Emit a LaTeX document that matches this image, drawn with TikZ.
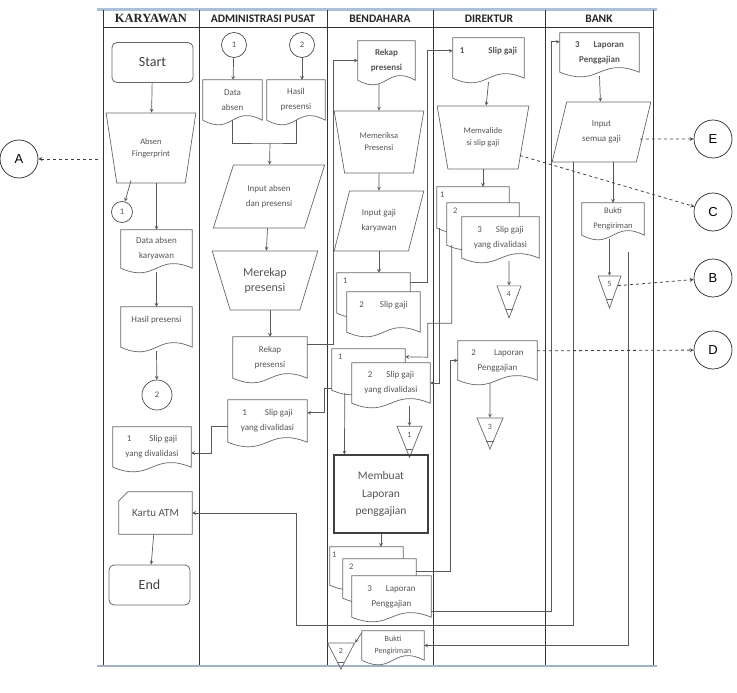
\documentclass[tikz,border=0pt]{standalone}
\usepackage{fontspec}
\setmainfont{Carlito}
\newfontfamily\hdserif{Liberation Serif}
\newfontfamily\lblfont{Liberation Sans}
\usetikzlibrary{shapes.geometric,arrows,positioning,calc,backgrounds}
\definecolor{barblue}{RGB}{168,192,222}
\definecolor{txtgray}{RGB}{85,85,85}

\begin{document}
\begin{tikzpicture}[x=1pt, y=-1pt]
  \tikzstyle{lane}=[draw=black!80, line width=0.7pt]
  \tikzstyle{head}=[font=\bfseries\fontsize{11.5}{11.5}\selectfont, text=black!85]
  \tikzstyle{doc}=[rectangle, inner sep=1pt, align=center, text=txtgray, font=\fontsize{9}{15}\selectfont]
  \tikzstyle{docline}=[draw=black!60, line width=0.7pt, fill=white]
  \tikzstyle{term}=[rectangle, rounded corners=5pt, draw=black!60, line width=0.8pt, minimum width=81, minimum height=40, font=\fontsize{14}{16}\selectfont, text=black!75]
  \tikzstyle{manual}=[trapezium, trapezium stretches=true, shape border rotate=180, draw=black!60, line width=0.7pt, align=center, inner sep=0pt, text=txtgray, font=\fontsize{8.5}{12}\selectfont]
  \tikzstyle{inout}=[trapezium, trapezium stretches=true, draw=black!60, line width=0.7pt, align=center, inner sep=0pt, text=txtgray, font=\fontsize{9}{15}\selectfont]
  \tikzstyle{conn}=[circle, draw=black!70, line width=0.7pt, inner sep=0pt, text=black!70, font=\fontsize{8.5}{9}\selectfont]
  \tikzstyle{offpage}=[isosceles triangle, isosceles triangle stretches, shape border rotate=-90, draw=black!60, line width=0.7pt, inner sep=0pt, text=txtgray, font=\fontsize{8}{9}\selectfont]
  \tikzstyle{letter}=[circle, draw=black!85, line width=0.7pt, minimum size=38, inner sep=0pt, font=\lblfont\fontsize{13}{13}\selectfont]
  \tikzstyle{pagenum}=[anchor=north west, inner xsep=6pt, inner ysep=5pt, text=txtgray, font=\fontsize{8.5}{9}\selectfont]
  \tikzstyle{arrow}=[->, >=stealth, draw=black!65, line width=0.7pt]
  \tikzstyle{link}=[draw=black!65, line width=0.7pt]
  \tikzstyle{dasharrow}=[->, >=stealth, dashed, draw=black!75, line width=0.8pt]

  \useasboundingbox (0,0) rectangle (737,693);

  % header
  \node[head, font=\hdserif\bfseries\fontsize{12.5}{12.5}\selectfont] (h1) at (151,18.5) {KARYAWAN};
  \node[head] (h2) at (263,18.5) {ADMINISTRASI PUSAT};
  \node[head] (h3) at (380,18.5) {BENDAHARA};
  \node[head] (h4) at (489,18.5) {DIREKTUR};
  \node[head] (h5) at (599,18.5) {BANK};

  % karyawan
  \node[term] (k1) at (152.5,62.5) {Start};
  \node[manual, minimum width=90, minimum height=70, trapezium left angle=73, trapezium right angle=73] (k2) at (151,148) {Absen\\Fingerprint};
  \node[conn, minimum size=21] (kc1) at (122,212) {1};
  \node[doc, minimum width=71, minimum height=38] (k3) at (156.5,249) {Data absen\\karyawan};
  \node[doc, minimum width=71, minimum height=40] (k4) at (156.5,327) {Hasil presensi\\~};
  \node[conn, minimum size=30] (kc2) at (157,395) {2};
  \node[doc, minimum width=78, minimum height=40] (k6) at (152,447) {1\hspace{18pt}Slip gaji\\yang divalidasi};
  \node[doc, minimum width=73, minimum height=42, font=\fontsize{11}{12}\selectfont] (k7) at (155.5,513) {Kartu ATM};
  \node[term] (k8) at (149.5,585) {End};

  % administrasi pusat
  \node[conn, minimum size=25] (ac1) at (234,45) {1};
  \node[conn, minimum size=25] (ac2) at (302,45) {2};
  \node[doc, minimum width=59, minimum height=40] (a1) at (232.5,100) {Data\\absen};
  \node[doc, minimum width=58, minimum height=40] (a2) at (296,100) {Hasil\\presensi};
  \node[inout, minimum width=112, minimum height=63, trapezium left angle=60, trapezium right angle=120] (a3) at (269,196.5) {Input absen\\dan presensi};
  \node[manual, minimum width=106, minimum height=59, trapezium left angle=66, trapezium right angle=66, font=\fontsize{12}{15}\selectfont] (a4) at (265,280.5) {Merekap\\presensi};
  \node[doc, minimum width=74, minimum height=41] (a5) at (270,357.5) {Rekap\\presensi};
  \node[doc, minimum width=79, minimum height=42] (a6) at (267.5,421) {1\hspace{18pt}Slip gaji\\yang divalidasi};

  % bendahara
  \node[doc, minimum width=57, minimum height=39, font=\bfseries\fontsize{9}{15}\selectfont] (b1) at (386.5,60.5) {Rekap\\presensi};
  \node[manual, minimum width=90, minimum height=62, trapezium left angle=72, trapezium right angle=72] (b2) at (379,142) {Memeriksa\\Presensi};
  \node[inout, minimum width=90, minimum height=60, trapezium left angle=68, trapezium right angle=112] (b3) at (379,221) {Input gaji\\karyawan};
  \node[doc, minimum width=73, minimum height=40, label={[pagenum]north west:1}] (b4) at (373.5,293) {};
  \node[doc, minimum width=73, minimum height=40] (b5) at (383.5,312) {2\hspace{16pt}Slip gaji\\~};
  \node[doc, minimum width=73, minimum height=41, label={[pagenum]north west:1}] (b6) at (368.5,369.5) {};
  \node[doc, minimum width=78, minimum height=40] (b7) at (391,383) {2\hspace{14pt}Slip gaji\\yang divalidasi};
  \node[offpage, minimum width=25, minimum height=31] (bt1) at (409.5,434.5) {1};
  \node[rectangle, draw=black!75, line width=1.1pt, minimum width=94, minimum height=78, align=center, text=txtgray, font=\fontsize{11.5}{17.5}\selectfont] (b8) at (381,494) {Membuat\\Laporan\\penggajian};
  \node[doc, minimum width=73, minimum height=38, label={[pagenum, inner xsep=2pt]north west:1}] (b9) at (366.5,566) {};
  \node[doc, minimum width=73, minimum height=39, label={[pagenum]north west:2}] (b10) at (379.5,578.5) {};
  \node[doc, minimum width=79, minimum height=41] (b11) at (391.5,596.5) {3\hspace{14pt}Laporan\\Penggajian};
  \node[offpage, minimum width=27, minimum height=26] (bt2) at (341,651) {2};
  \node[doc, minimum width=62, minimum height=29, font=\fontsize{8}{12}\selectfont] (b12) at (393,645.5) {Bukti\\Pengiriman};

  % direktur
  \node[doc, minimum width=71, minimum height=40, font=\bfseries\fontsize{9}{15}\selectfont] (d1) at (488.5,58) {1\hspace{24pt}Slip gaji\\~};
  \node[manual, minimum width=92, minimum height=63, trapezium left angle=73, trapezium right angle=73] (d2) at (483,137.5) {Memvalide\\si slip gaji};
  \node[doc, minimum width=72, minimum height=41, label={[pagenum, inner xsep=3pt]north west:1}] (d3) at (473,207.5) {};
  \node[doc, minimum width=72, minimum height=42, label={[pagenum]north west:2}] (d4) at (483,224) {};
  \node[doc, minimum width=77, minimum height=41] (d5) at (500.5,237.5) {3\hspace{14pt}Slip gaji\\yang divalidasi};
  \node[offpage, minimum width=24, minimum height=32] (dt4) at (509,294) {4};
  \node[doc, minimum width=79, minimum height=39] (d6) at (497.5,360.5) {2\hspace{18pt}Laporan\\Penggajian};
  \node[offpage, minimum width=26, minimum height=31] (dt3) at (490,426.5) {3};

  % bank
  \node[doc, minimum width=79, minimum height=39, font=\bfseries\fontsize{9}{15}\selectfont] (n1) at (599.5,52.5) {3\hspace{14pt}Laporan\\Penggajian};
  \node[inout, minimum width=99, minimum height=60, trapezium left angle=70, trapezium right angle=110] (n2) at (601.5,132) {Input\\semua gaji};
  \node[doc, minimum width=62, minimum height=32, font=\fontsize{8.5}{15}\selectfont] (n3) at (613,219) {Bukti\\Pengiriman};
  \node[offpage, minimum width=23, minimum height=32] (nt5) at (609.5,284) {5};

  % keterangan
  \node[letter] (A) at (19,159) {A};
  \node[letter] (E) at (713,139) {E};
  \node[letter] (C) at (713,212) {C};
  \node[letter] (B) at (713,278) {B};
  \node[letter] (D) at (713,350) {D};

  \begin{scope}[on background layer]
    \draw[barblue, line width=3pt] (97,10) -- (657,10);
    \draw[barblue!80!gray, line width=2.5pt] (97,666) -- (657,666);
    \foreach \x in {103,199,327,433,545,653}
      \draw[lane] (\x,10) -- (\x,665);
    \draw[lane] (103,27) -- (653,27);
    \foreach \n in {k3,k4,k6,a1,a2,a5,a6,b1,b4,b5,b6,b7,b9,b10,b11,b12,d1,d3,d4,d5,d6,n1,n3}
      \draw[docline] (\n.south west) -- (\n.north west) -- (\n.north east) -- (\n.south east)
        .. controls ($(\n.south)+(0,-16)$) and ($(\n.south)+(0,16)$) .. (\n.south west) -- cycle;
    \draw[docline] (k7.south west) -- ($(k7.north west)+(0,9)$) -- ($(k7.north west)+(9,0)$)
      -- (k7.north east) -- (k7.south east) -- cycle;
  \end{scope}
  \foreach \t in {bt1,bt2,dt4,dt3,nt5}
    \draw[black!60, line width=0.7pt] ($(\t.left corner)!0.72!(\t.apex)$) -- ($(\t.right corner)!0.72!(\t.apex)$);

  % karyawan
  \draw[arrow] (k1) -- (k2);
  \draw[arrow] ($(k2.south)+(-20,-3)$) -- (kc1);
  \draw[arrow] (k2.south -| k3) -- (k3);
  \draw[arrow] ($(k3.south)+(0,4)$) -- (k4);
  \draw[arrow] ($(k4.south)+(0,4)$) -- (kc2);
  \draw[arrow] (k7) -- (k8);

  % administrasi pusat
  \coordinate (mg) at (270,143);
  \draw[arrow] (ac1) -- (a1);
  \draw[arrow] (ac2) -- (ac2 |- a2.north);
  \draw[link] (a1.south) |- (mg) -| (a2.south);
  \draw[arrow] (mg) -- (a3);
  \draw[arrow] (a3) -- (a4);
  \draw[arrow] (a4.south -| a5) -- (a5);
  \draw[arrow] ($(a5.north east)+(0,8)$) -- ++(26,0) |- (b1.west);
  \draw[arrow] ($(a6.west)+(0,5)$) -- ++(-16,0) |- ($(k6.east)+(0,6)$);

  % bendahara
  \draw[arrow] ($(b1.south -| b2)+(0,4)$) -- (b2);
  \draw[arrow] (b2) -- (b3);
  \draw[arrow] (b3.south) -- (b3.south |- b4.north);
  \draw[arrow] ($(b4.north east)+(0,10)$) -- ++(17,0) |- ($(d1.north west)+(0,13)$);
  \draw[arrow] ($(b7.south -| bt1)+(0,3)$) -- (bt1);
  \draw[arrow] ($(b6.south west)+(13,3)$) -- ($(b8.north west)+(11,0)$);
  \draw[arrow] ($(b6.south west)+(0,-2)$) -- ++(-7,0) |- ($(a6.north east)+(0,13)$);
  \draw[arrow] (b8.south) -- (b8.south |- b9.north);
  \draw[arrow] ($(b10.north east)+(0,13)$) -- ++(34,0) |- (d6.west);
  \draw[arrow] ($(b11.south east)+(0,-6)$) -- ++(120,0) |- ($(n1.north west)+(0,9)$);
  \draw[arrow] ($(b12.north west)+(0,2)$) -- (bt2.left corner);

  % direktur
  \draw[arrow] ($(d1.south)+(0,4)$) -- (d2);
  \draw[arrow] (d2.south) -- (d2.south |- d3.north);
  \draw[arrow] ($(d5.south -| dt4)+(0,3)$) -- (dt4);
  \draw[arrow] ($(d3.south west)+(3,0)$) |- (b7.east);
  \draw[arrow] ($(d4.south west)+(5,0)$) -- ++(0,78) -| ++(-24,34) -- ($(b6.north east)+(0,8)$);
  \draw[arrow] ($(d6.south -| dt3)+(0,3)$) -- (dt3);

  % bank
  \draw[arrow] ($(n1.south)+(0,4)$) -- (n2);
  \draw[arrow] (n2.south -| n3) -- (n3);
  \draw[arrow] ($(n3.south -| nt5)+(0,4)$) -- (nt5);
  \draw[arrow] ($(n2.south)+(-28,0)$) |- ++(-277,463) |- (k7.east);
  \draw[arrow] ($(n3.south east)+(-16,17)$) |- (b12.east);

  % keterangan
  \draw[dasharrow] ($(k2.west |- A)+(-13,0)$) -- (A);
  \draw[dasharrow] ($(d2.east)+(-4,18)$) -- (C);
  \draw[dasharrow] ($(n2.east)+(-4,7)$) -- (E);
  \draw[dasharrow] ($(nt5.left corner)!0.3!(nt5.apex)$) -- (B);
  \draw[dasharrow] ($(d6.north east)+(0,10)$) -- (D);
\end{tikzpicture}
\end{document}
